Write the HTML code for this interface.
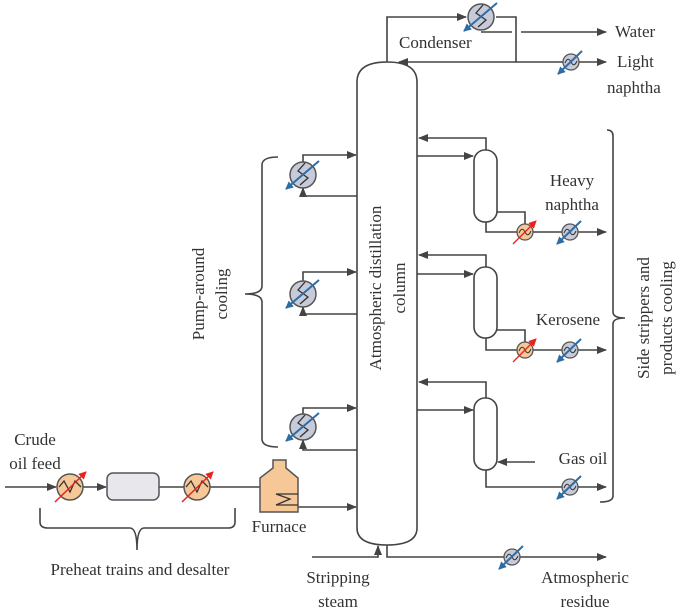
<!DOCTYPE html>
<html><head><meta charset="utf-8"><style>
html,body{margin:0;padding:0;background:#fff;}
svg{display:block;font-family:"Liberation Serif","DejaVu Serif",serif;}
text{font-family:"Liberation Serif","DejaVu Serif",serif;font-size:17px;fill:#333;}
</style></head><body>
<svg width="685" height="612" viewBox="0 0 685 612" xmlns="http://www.w3.org/2000/svg" font-family="Liberation Serif, DejaVu Serif, serif">
<defs>
<marker id="a" markerWidth="10" markerHeight="8" refX="9" refY="4" orient="auto" markerUnits="userSpaceOnUse">
<path d="M0,0 L10,4 L0,8 Z" fill="#444"/></marker>
<marker id="ab" markerWidth="8" markerHeight="8" refX="7" refY="4" orient="auto" markerUnits="userSpaceOnUse">
<path d="M0,0 L8,4 L0,8 Z" fill="#2e6da4"/></marker>
<marker id="ar" markerWidth="8" markerHeight="8" refX="7" refY="4" orient="auto" markerUnits="userSpaceOnUse">
<path d="M0,0 L8,4 L0,8 Z" fill="#e8231c"/></marker>
<g id="bigC">
<circle r="13" fill="#c7cad8" stroke="#555" stroke-width="1.5"/>
<path d="M2,-12 L-5,-4 L5,3 L-3,10" fill="none" stroke="#333" stroke-width="1.3"/>
<line x1="16" y1="-14" x2="-17" y2="14" stroke="#2e6da4" stroke-width="2" marker-end="url(#ab)"/>
</g>
<g id="bigH">
<circle r="13" fill="#f6c898" stroke="#555" stroke-width="1.5"/>
<path d="M-11,0 L-6,-6 L0,5 L5,-6 L11,0" fill="none" stroke="#333" stroke-width="1.3"/>
<line x1="-15" y1="15" x2="16" y2="-15" stroke="#e8231c" stroke-width="1.5" marker-end="url(#ar)"/>
</g>
<g id="smC">
<circle r="8" fill="#c7cad8" stroke="#555" stroke-width="1.3"/>
<path d="M-6,1 Q-3,-6 0,0 Q3,6 6,-1" fill="none" stroke="#333" stroke-width="1"/>
<line x1="11" y1="-11" x2="-13" y2="12" stroke="#2e6da4" stroke-width="2" marker-end="url(#ab)"/>
</g>
<g id="smH">
<circle r="8" fill="#f6c898" stroke="#555" stroke-width="1.3"/>
<path d="M-6,1 Q-3,-6 0,0 Q3,6 6,-1" fill="none" stroke="#333" stroke-width="1"/>
<line x1="-12" y1="12" x2="11" y2="-11" stroke="#e8231c" stroke-width="1.3" marker-end="url(#ar)"/>
</g>
</defs>

<g fill="none" stroke="#444" stroke-width="1.6">
<path d="M357,82 Q357,62 387,62 Q417,62 417,82 L417,528 Q417,545 387,545 Q357,545 357,528 Z" fill="#fff"/>
<path d="M387,62 L387,17 L466,17" marker-end="url(#a)"/>
<path d="M496,17 L516,17 L516,62 L399,62" marker-end="url(#a)"/>
<path d="M481,32 L512,32"/>
<path d="M521,32 L606,32" marker-end="url(#a)"/>
<path d="M516,62 L606,62" marker-end="url(#a)"/>
<path d="M486,150 L486,138 L419,138" marker-end="url(#a)"/>
<path d="M417,156 L473,156" marker-end="url(#a)"/>
<rect x="474" y="150" width="23" height="72" rx="11" fill="#fff"/>
<path d="M497,212 L525,212 L525,225"/>
<path d="M486,222 L486,232 L606,232" marker-end="url(#a)"/>
<path d="M486,267 L486,255 L419,255" marker-end="url(#a)"/>
<path d="M417,274 L473,274" marker-end="url(#a)"/>
<rect x="474" y="267" width="23" height="71" rx="11" fill="#fff"/>
<path d="M497,330 L525,330 L525,343"/>
<path d="M486,338 L486,350 L606,350" marker-end="url(#a)"/>
<path d="M486,398 L486,382 L419,382" marker-end="url(#a)"/>
<path d="M417,410 L473,410" marker-end="url(#a)"/>
<rect x="474" y="398" width="23" height="72" rx="11" fill="#fff"/>
<path d="M535,462 L498,462" marker-end="url(#a)"/>
<path d="M486,470 L486,487 L606,487" marker-end="url(#a)"/>
<path d="M387,545 L387,557 L606,557" marker-end="url(#a)"/>
<path d="M312,557 L378,557 L378,546" marker-end="url(#a)"/>
<path d="M303,163 L303,155 L356,155" marker-end="url(#a)"/>
<path d="M357,196 L303,196 L303,188" marker-end="url(#a)"/>
<path d="M303,282 L303,272 L356,272" marker-end="url(#a)"/>
<path d="M357,314 L303,314 L303,307" marker-end="url(#a)"/>
<path d="M303,415 L303,408 L356,408" marker-end="url(#a)"/>
<path d="M357,450 L303,450 L303,440" marker-end="url(#a)"/>
<path d="M5,487 L56,487" marker-end="url(#a)"/>
<path d="M83,487 L106,487" marker-end="url(#a)"/>
<path d="M159,487 L260,487"/>
<path d="M298,507 L356,507" marker-end="url(#a)"/>
<path d="M607,130 Q613,130 613,136 L613,312 Q613,318 625,318 Q613,318 613,324 L613,496 Q613,502 600,502"/>
<path d="M278,157 Q262,157 262,165 L262,286 Q262,294 245,294 Q262,294 262,302 L262,439 Q262,447 278,447"/>
<path d="M40,508 L40,522 Q40,528 48,528 L130,528 Q137,528 137,550 Q137,528 144,528 L228,528 Q235,528 235,522 L235,508"/>
</g>
<rect x="107" y="473" width="52" height="27" rx="6" fill="#e8e8ec" stroke="#555" stroke-width="1.5"/>
<path d="M273,460 L286,460 L286,468 L298,478 L298,512 L260,512 L260,478 L273,468 Z" fill="#f6c898" stroke="#555" stroke-width="1.5"/>
<path d="M298,494 L276,494 L290,499 L276,505 L298,505" fill="none" stroke="#333" stroke-width="1.3"/>

<use href="#bigC" x="481" y="17"/>
<use href="#bigC" x="303" y="175"/>
<use href="#bigC" x="303" y="294"/>
<use href="#bigC" x="303" y="427"/>
<use href="#bigH" x="70" y="487"/>
<use href="#bigH" x="197" y="487"/>
<use href="#smC" x="571" y="62"/>
<use href="#smH" x="525" y="232"/>
<use href="#smC" x="570" y="232"/>
<use href="#smH" x="525" y="350"/>
<use href="#smC" x="570" y="350"/>
<use href="#smC" x="570" y="487"/>
<use href="#smC" x="512" y="557"/>

<text x="399" y="48">Condenser</text>
<text x="615" y="37">Water</text>
<text x="617" y="67">Light</text>
<text x="607" y="93">naphtha</text>
<text x="572" y="186" text-anchor="middle">Heavy</text>
<text x="572" y="210" text-anchor="middle">naphtha</text>
<text x="568" y="325" text-anchor="middle">Kerosene</text>
<text x="583" y="464" text-anchor="middle">Gas oil</text>
<text x="585" y="583" text-anchor="middle">Atmospheric</text>
<text x="585" y="607" text-anchor="middle">residue</text>
<text x="338" y="583" text-anchor="middle">Stripping</text>
<text x="338" y="607" text-anchor="middle">steam</text>
<text x="279" y="532" text-anchor="middle">Furnace</text>
<text x="35" y="445" text-anchor="middle">Crude</text>
<text x="35" y="469" text-anchor="middle">oil feed</text>
<text x="140" y="575" text-anchor="middle">Preheat trains and desalter</text>
<text transform="translate(381,288) rotate(-90)" text-anchor="middle" font-size="18">Atmospheric distillation</text>
<text transform="translate(405,288) rotate(-90)" text-anchor="middle" font-size="18">column</text>
<text transform="translate(204,294) rotate(-90)" text-anchor="middle">Pump-around</text>
<text transform="translate(227,294) rotate(-90)" text-anchor="middle">cooling</text>
<text transform="translate(649,318) rotate(-90)" text-anchor="middle">Side strippers and</text>
<text transform="translate(672,318) rotate(-90)" text-anchor="middle">products cooling</text>
</svg>
</body></html>
